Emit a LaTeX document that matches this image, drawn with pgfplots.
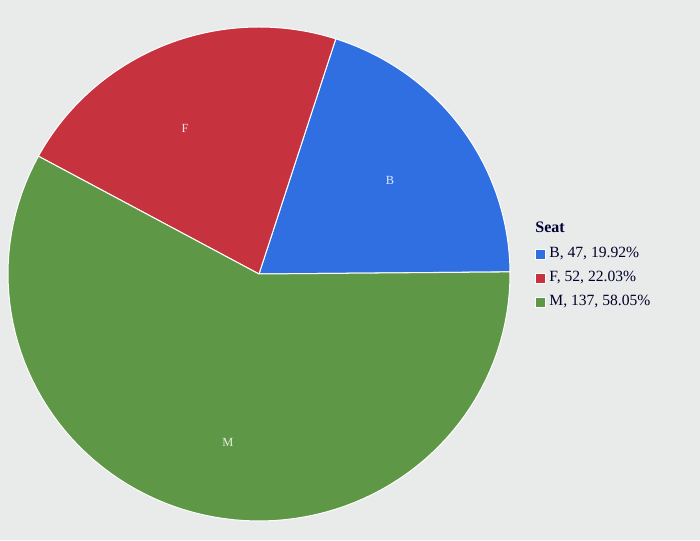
\documentclass[border=0pt]{standalone}
\usepackage{fontspec}
\setmainfont{Liberation Serif}
\usepackage{pgfplots}
\usepackage{pgfplotstable}
\pgfplotsset{compat=1.18}

\definecolor{bgc}{HTML}{E9EBEB}
\definecolor{cB}{HTML}{2F6FE2}
\definecolor{cF}{HTML}{C7323F}
\definecolor{cM}{HTML}{5E9746}

% Seat counts
\pgfplotstableread{
cat n
B 47
F 52
M 137
}\seat

\begin{document}
\begin{tikzpicture}
\pgfplotstablegetelem{0}{n}\of\seat \let\nB\pgfplotsretval
\pgfplotstablegetelem{1}{n}\of\seat \let\nF\pgfplotsretval
\pgfplotstablegetelem{2}{n}\of\seat \let\nM\pgfplotsretval
\pgfmathsetmacro{\tot}{\nB+\nF+\nM}
\pgfmathsetmacro{\aO}{0.5}
\pgfmathsetmacro{\aB}{\aO+\nB/\tot*360}
\pgfmathsetmacro{\aF}{\aB+\nF/\tot*360}
\pgfmathsetmacro{\aM}{\aF+\nM/\tot*360}
\begin{axis}[
  scale only axis, width=350pt, height=270pt,
  xmin=0, xmax=700, ymin=0, ymax=540,
  hide axis, clip=false,
  samples=90,
  legend style={at={(axis cs:535,297)}, anchor=north west, draw=none, fill=none,
    font=\fontsize{7.8}{9}\selectfont, text=black!75!blue!60!black,
    row sep=1.3pt, inner sep=0pt,
    nodes={inner xsep=1.5pt}},
  legend cell align=left,
  legend image code/.code={\fill[#1] (0cm,-2.5pt) rectangle (5pt,2.5pt);},
]
\fill[bgc] (axis cs:0,0) rectangle (axis cs:700,540);
\addplot[fill=cB, draw=white, line width=0.5pt, domain=\aO:\aB]
  ({259+251*cos(x)},{266+247*sin(x)}) -- (axis cs:259,266) -- cycle;
\addlegendentry{B, 47, 19.92\%}
\addplot[fill=cF, draw=white, line width=0.5pt, domain=\aB:\aF]
  ({259+251*cos(x)},{266+247*sin(x)}) -- (axis cs:259,266) -- cycle;
\addlegendentry{F, 52, 22.03\%}
\addplot[fill=cM, draw=white, line width=0.5pt, domain=\aF:\aM]
  ({259+251*cos(x)},{266+247*sin(x)}) -- (axis cs:259,266) -- cycle;
\addlegendentry{M, 137, 58.05\%}

\node[text=white!85!cB, font=\fontsize{6.2}{7}\selectfont] at (axis cs:390,360) {B};
\node[text=white!85!cF, font=\fontsize{6.2}{7}\selectfont] at (axis cs:185,412) {F};
\node[text=white!85!cM, font=\fontsize{6.2}{7}\selectfont] at (axis cs:228,98) {M};
\node[anchor=west, inner sep=0pt, font=\bfseries\fontsize{8}{9}\selectfont, text=black!80!blue] at (axis cs:535,313) {Seat};
\end{axis}
\end{tikzpicture}
\end{document}
